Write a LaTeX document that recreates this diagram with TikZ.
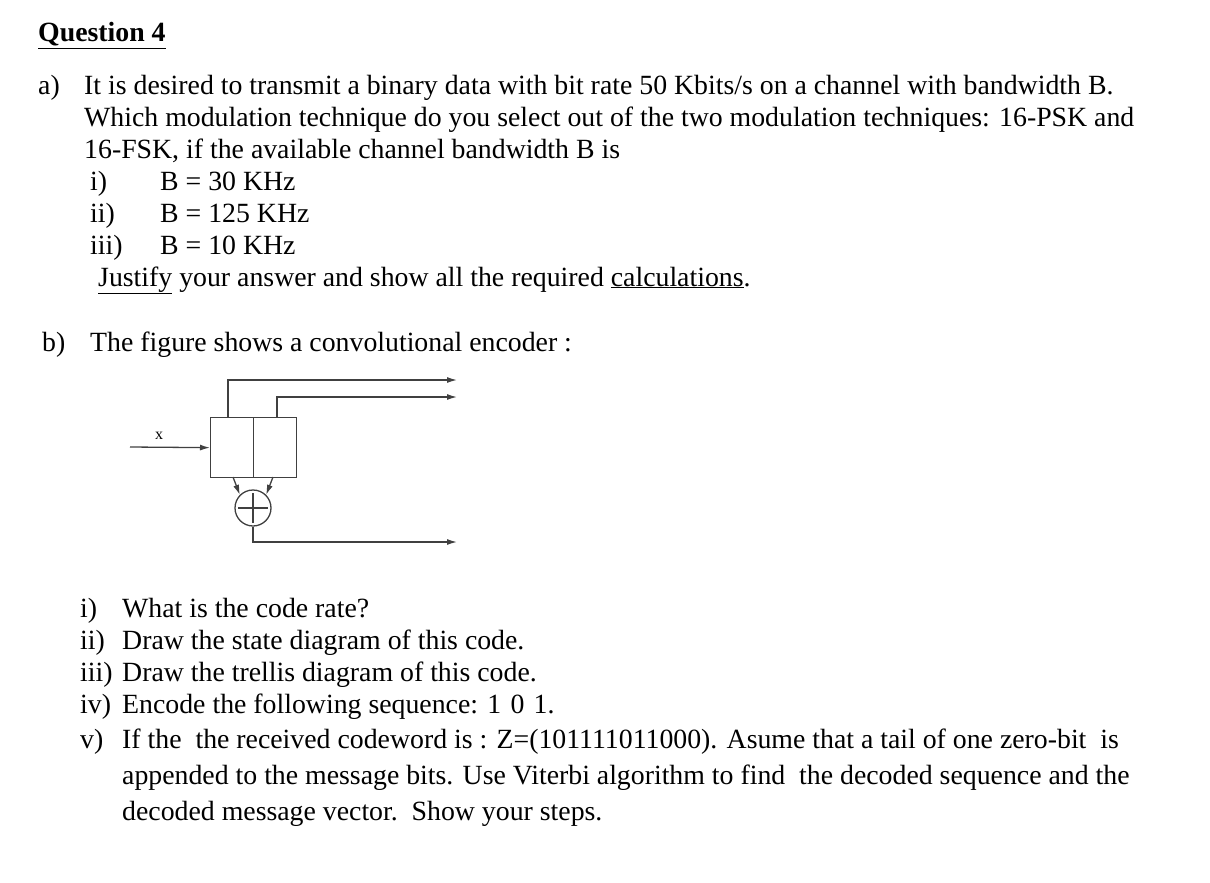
\documentclass[tikz,border=0pt]{standalone}
\usepackage{fontspec}
\setmainfont{Liberation Serif}
\usetikzlibrary{arrows.meta,calc}
\begin{document}
\begin{tikzpicture}[x=1pt,y=-1pt,
 t/.style={anchor=base west,inner sep=0pt,font=\fontsize{27.8}{30}\selectfont},
 w/.style={line width=1.3pt,draw=black!75},
 ar/.style={w,-{Latex[length=10pt,width=6pt]}}]
\useasboundingbox (0,0) rectangle (1210,883);
\node[t,font=\fontsize{27.8}{30}\selectfont\bfseries] (q) at (38,42) {\underline{Question 4}};
\node[t] (a) at (38,94) {a)};
\node[t] (a1) at (84,94) {It is desired to transmit a binary data with bit rate 50 Kbits/s on a channel with bandwidth B.};
\node[t] (a2) at (84,126) {Which modulation technique do you select out of the two modulation techniques: 16-PSK and};
\node[t] (a3) at (84,158) {16-FSK, if the available channel bandwidth B is};
\node[t] (r1) at (90,190) {i)};\node[t] (b1) at (160,190) {B = 30 KHz};
\node[t] (r2) at (90,222) {ii)};\node[t] (b2) at (160,222) {B = 125 KHz};
\node[t] (r3) at (90,254) {iii)};\node[t] (b3) at (160,254) {B = 10 KHz};
\node[t] (j) at (98,286) {\underline{Justify} your answer and show all the required \underline{calculations}.};
\node[t] (b) at (42,351) {b)};
\node[t] (bt) at (90,351) {The figure shows a convolutional encoder :};
% encoder
\node[w,minimum width=43pt,minimum height=60pt,inner sep=0pt,anchor=north west] (c1) at (210,417) {};
\node[w,minimum width=43pt,minimum height=60pt,inner sep=0pt,anchor=north west] (c2) at (253,417) {};
\node[w,circle,minimum size=36pt,inner sep=0pt] (add) at (253,508) {};
\draw[line width=1.2pt,draw=black!75] ($(add.west)+(4,0)$) -- ($(add.east)+(-4,0)$);
\draw[line width=1.2pt,draw=black!75] ($(add.north)+(0,4)$) -- ($(add.south)+(0,-4)$);
\coordinate (xin) at (130,447);
\node[font=\fontsize{16}{18}\selectfont,inner sep=0pt] (xl) at (159,436) {x};
\draw[ar] (xin) -- (c1.west);
\coordinate (o1) at (457,380);\coordinate (o2) at (457,397);\coordinate (o3) at (457,542);
\draw[ar] (228,417) |- (o1);
\draw[ar] (277,417) |- (o2);
\draw[ar] (add.south) |- (o3);
\draw[ar] (233,477) -- (add.north west);
\draw[ar] (273,477) -- (add.north east);
\node[t] (s1) at (80,617) {i)};\node[t] (s1t) at (122,617) {What is the code rate?};
\node[t] (s2) at (80,649) {ii)};\node[t] (s2t) at (122,649) {Draw the state diagram of this code.};
\node[t] (s3) at (80,681) {iii)};\node[t] (s3t) at (122,681) {Draw the trellis diagram of this code.};
\node[t] (s4) at (80,713) {iv)};\node[t] (s4t) at (122,713) {Encode the following sequence: 1\,\,0\,\,1.};
\node[t] (s5) at (80,748) {v)};\node[t] (s5t) at (122,748) {If the\ \ the received codeword is : Z=(101111011000). Asume that a tail of one zero-bit\ \ is};
\node[t] (s6) at (122,784) {appended to the message bits. Use Viterbi algorithm to find\ \ the decoded sequence and the};
\node[t] (s7) at (122,820) {decoded message vector.\ \ Show your steps.};
\end{tikzpicture}
\end{document}
